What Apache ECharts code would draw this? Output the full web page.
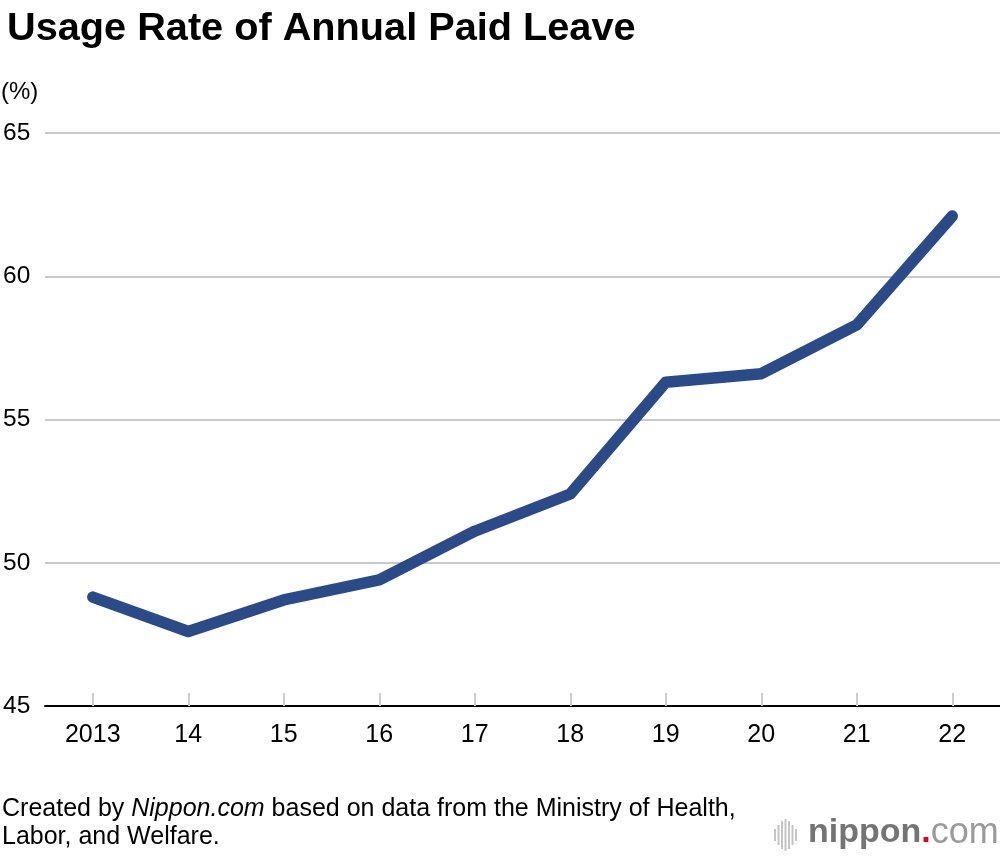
<!DOCTYPE html>
<html><head><meta charset="utf-8">
<script src="https://cdn.jsdelivr.net/npm/echarts@6/dist/echarts.min.js"></script>
<style>html,body{margin:0;padding:0;background:#fff}#c{width:1000px;height:856px}</style>
</head><body><div id="c"></div>
<script>
const categories = ['2013','14','15','16','17','18','19','20','21','22'];
const usageRate = [48.8, 47.6, 48.7, 49.4, 51.1, 52.4, 56.3, 56.6, 58.3, 62.1];
const yTicks = [45, 50, 55, 60, 65];

const F = '"Liberation Sans", Helvetica, Arial, sans-serif';
const chart = echarts.init(document.getElementById('c'));
const bars = [];
const barH = [12, 20, 28, 32, 28, 20, 12];
barH.forEach((h, i) => {
  bars.push({type:'rect', shape:{x:774 + i*3.5, y:835 - h/2, width:2, height:h}, style:{fill:'#c4c4c4'}});
});
chart.setOption({
  backgroundColor:'#fff',
  animation:false,
  grid:{left:44, right:-1, top:133, bottom:150},
  title:{text:'Usage Rate of Annual Paid Leave', left:2, top:4,
    textStyle:{fontFamily:F, fontSize:39.7, fontWeight:'bold', color:'#000'}},
  graphic:[
    {type:'text', left:1, top:80, style:{text:'(%)', font:'24px '+F, fill:'#000'}},
    {type:'text', left:2, top:797, style:{text:'{n|Created by }{i|Nippon.com}{n| based on data from the Ministry of Health,}\n{n|Labor, and Welfare.}',
      rich:{n:{fontFamily:F, fontSize:25, fill:'#000', lineHeight:28}, i:{fontFamily:F, fontSize:25, fontStyle:'italic', fill:'#000', lineHeight:28}}}},
    ...bars,
    {type:'text', left:808, top:815, style:{text:'{a|nippon}{b|.}{c|com}',
      rich:{a:{fontFamily:F, fontSize:34, fontWeight:'bold', fill:'#747474'},
            b:{fontFamily:F, fontSize:34, fontWeight:'bold', fill:'#e60012'},
            c:{fontFamily:F, fontSize:36, fill:'#9a9a9a'}}}}
  ],
  xAxis:{type:'category', data:categories, boundaryGap:true,
    axisLine:{show:true, lineStyle:{color:'#000', width:2}},
    axisTick:{show:true, inside:true, alignWithLabel:true, length:13, lineStyle:{color:'#ccc', width:2}},
    axisLabel:{fontFamily:F, fontSize:25, color:'#000', margin:17},
    splitLine:{show:false}},
  yAxis:{type:'value', min:yTicks[0], max:yTicks[yTicks.length-1], interval:5,
    axisLine:{show:false}, axisTick:{show:false},
    axisLabel:{fontFamily:F, fontSize:24.5, color:'#000', align:'left', margin:42},
    splitLine:{lineStyle:{color:'#c8c8c8', width:2}}},
  series:[{type:'line', data:usageRate, symbol:'none', smooth:false,
    lineStyle:{color:'#2a4b87', width:11.5, cap:'round', join:'round'}}]
});
</script></body></html>
